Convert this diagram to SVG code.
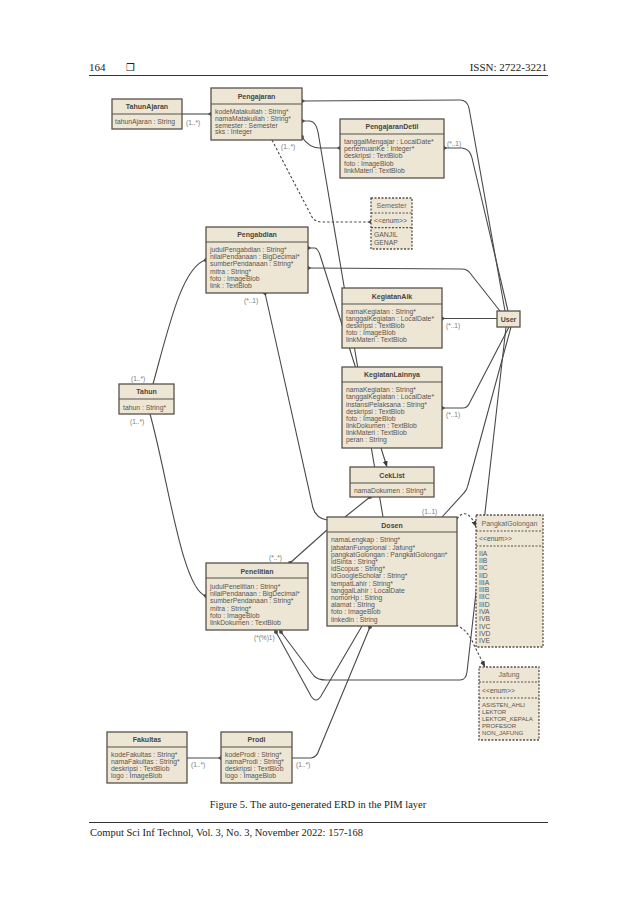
<svg xmlns="http://www.w3.org/2000/svg" width="638" height="902" viewBox="0 0 638 902">
<style>
.pg{fill:#fff}
.serif{font-family:"Liberation Serif","Times New Roman",serif;fill:#222}
.box{fill:#ede6d5;stroke:#57524c;stroke-width:1.3}
.ebox{fill:#ede6d5;stroke:#57524c;stroke-width:1.3;stroke-dasharray:2,1.5}
.hl{stroke:#57524c;stroke-width:1.2}
.ehl{stroke:#57524c;stroke-width:1.2;stroke-dasharray:2,1.5}
.t{font-family:"Liberation Sans",Arial,sans-serif;font-size:7px;font-weight:bold;fill:#4a4540;text-anchor:middle}
.et{font-family:"Liberation Sans",Arial,sans-serif;font-size:7px;fill:#6a655f;text-anchor:middle}
.a{font-family:"Liberation Sans",Arial,sans-serif;font-size:6.8px;fill:#5a554f}
.v{font-family:"Liberation Sans",Arial,sans-serif;font-size:6.1px;fill:#5a554f}
.c{fill:none;stroke:#4a4a4a;stroke-width:1.1}
.cd{fill:none;stroke:#4a4a4a;stroke-width:1.1;stroke-dasharray:2.5,2}
.lb{font-family:"Liberation Sans",Arial,sans-serif;font-size:6.5px;fill:#777}
</style>
<defs>
<marker id="d" markerUnits="userSpaceOnUse" markerWidth="6" markerHeight="6" refX="3" refY="3" orient="auto-start-reverse"><path d="M0,3 L3,0.8 L6,3 L3,5.2 z" fill="#4a4a4a"/></marker>
<marker id="ar" markerUnits="userSpaceOnUse" markerWidth="7" markerHeight="7" refX="6" refY="3" orient="auto-start-reverse"><path d="M0,0.5 L6,3 L0,5.5 z" fill="#3a3a3a"/></marker>
</defs>
<rect class="pg" x="0" y="0" width="638" height="902"/>
<g id="header">
<text class="serif" x="89" y="71" font-size="11">164</text>
<text x="126" y="71" font-family="DejaVu Sans,sans-serif" font-size="10" fill="#222">❒</text>
<text class="serif" x="547" y="71" font-size="11" text-anchor="end">ISSN: 2722-3221</text>
<line x1="89" y1="75.5" x2="548" y2="75.5" stroke="#333" stroke-width="1"/>
</g>
<g id="connectors">
<path class="c" d="M182,114 L211,114" marker-end="url(#d)"/>
<path class="c" d="M302,101 L460,100 Q467,100 469,108 L505,311" marker-start="url(#d)"/>
<path class="c" d="M302,137 Q309,148 320,148 L340,148" marker-start="url(#d)" marker-end="url(#d)"/>
<path class="c" d="M302,121 L310,121 Q316,122 318,132 L383,517" marker-start="url(#d)"/>
<path class="c" d="M444,148 L462,148 Q470,149 472,158 L508,311" marker-start="url(#d)"/>
<path class="cd" d="M272,140 L312,217 Q315,222 322,222 L371,222" marker-end="url(#d)"/>
<path class="c" d="M308,268 L462,269 Q467,269 470,273 L500,311" marker-start="url(#d)"/>
<path class="c" d="M308,248 L315,248 Q318,249 320,255 L387,467" marker-start="url(#d)" marker-end="url(#ar)"/>
<path class="c" d="M265,293 L313,508 Q316,518 327,520" marker-start="url(#d)"/>
<path class="c" d="M153,384 C168,330 182,266 206,260" marker-end="url(#d)"/>
<path class="c" d="M150,414 C168,478 182,590 206,596" marker-end="url(#d)"/>
<path class="c" d="M442,318.5 L497,318.5" marker-start="url(#d)"/>
<path class="c" d="M442,408 L463,408 Q467,408 469,404 L509,327" marker-start="url(#d)"/>
<path class="c" d="M442,517 L464,493 Q467,490 468,485 L511,327"/>
<path class="c" d="M281,632 L314,676 Q318,680 326,680 L460,680 Q466,680 467,672 L506,327" marker-start="url(#d)"/>
<path class="c" d="M276,632 L311,696 Q316,704 321,696 L362,626" marker-start="url(#d)"/>
<path class="c" d="M292,758 L311,758 Q317,757 319,750 L370,627" marker-end="url(#d)"/>
<path class="c" d="M187,758 L221,758" marker-end="url(#d)"/>
<path class="c" d="M290,563 L327,530" marker-start="url(#d)"/>
<path class="c" d="M345,517 L370,497" marker-end="url(#d)"/>
<path class="cd" d="M457,519 C462,511 470,511 476,527" marker-end="url(#ar)"/>
<path class="cd" d="M456,625 Q468,630 474,645 L485,667" marker-end="url(#ar)"/>
</g>
<g id="labels">
<text class="lb" x="186" y="125">(1..*)</text>
<text class="lb" x="281" y="149">(1..*)</text>
<text class="lb" x="447" y="145.5">(*..1)</text>
<text class="lb" x="244" y="302.5">(*..1)</text>
<text class="lb" x="446" y="327.5">(*..1)</text>
<text class="lb" x="131" y="380.5">(1..*)</text>
<text class="lb" x="130" y="424">(1..*)</text>
<text class="lb" x="446" y="416.5">(*..1)</text>
<text class="lb" x="422" y="514">(1..1)</text>
<text class="lb" x="269" y="560">(*..*)</text>
<text class="lb" x="254" y="640">(*(%)1)</text>
<text class="lb" x="191" y="767">(1..*)</text>
<text class="lb" x="296" y="767">(1..*)</text>
</g>
<g id="TahunAjaran">
<rect class="box" x="112" y="99" width="70" height="30"/>
<line class="hl" x1="112" y1="114" x2="182" y2="114"/>
<text class="t" x="147" y="109">TahunAjaran</text>
<text class="a" x="115" y="124">tahunAjaran : String</text>
</g>
<g id="Pengajaran">
<rect class="box" x="211" y="88" width="91" height="52"/>
<line class="hl" x1="211" y1="104" x2="302" y2="104"/>
<text class="t" x="256.5" y="98.5">Pengajaran</text>
<text class="a" x="215" y="114.3">kodeMatakuliah : String*</text>
<text class="a" x="215" y="121">namaMatakuliah : String*</text>
<text class="a" x="215" y="127.5">semester : Semester</text>
<text class="a" x="215" y="134.3">sks : Integer</text>
</g>
<g id="PengajaranDetil">
<rect class="box" x="340" y="119" width="104" height="59"/>
<line class="hl" x1="340" y1="134" x2="444" y2="134"/>
<text class="t" x="392" y="129">PengajaranDetil</text>
<text class="a" x="344" y="144">tanggalMengajar : LocalDate*</text>
<text class="a" x="344" y="151.1">pertemuanKe : Integer*</text>
<text class="a" x="344" y="158.3">deskripsi : TextBlob</text>
<text class="a" x="344" y="165.5">foto : ImageBlob</text>
<text class="a" x="344" y="172.8">linkMateri : TextBlob</text>
</g>
<g id="Semester">
<rect class="ebox" x="371" y="198" width="41" height="51"/>
<line class="ehl" x1="371" y1="213" x2="412" y2="213"/>
<line class="ehl" x1="371" y1="227.7" x2="412" y2="227.7"/>
<text class="et" x="391.5" y="208">Semester</text>
<text class="a" x="374" y="223">&lt;&lt;enum&gt;&gt;</text>
<text class="a" x="374" y="237">GANJIL</text>
<text class="a" x="374" y="244.5">GENAP</text>
</g>
<g id="Pengabdian">
<rect class="box" x="206" y="227" width="102" height="66"/>
<line class="hl" x1="206" y1="242" x2="308" y2="242"/>
<text class="t" x="257" y="237">Pengabdian</text>
<text class="a" x="210" y="251.6">judulPengabdian : String*</text>
<text class="a" x="210" y="258.9">nilaiPendanaan : BigDecimal*</text>
<text class="a" x="210" y="266.2">sumberPendanaan : String*</text>
<text class="a" x="210" y="273.5">mitra : String*</text>
<text class="a" x="210" y="280.8">foto : ImageBlob</text>
<text class="a" x="210" y="288.1">link : TextBlob</text>
</g>
<g id="KegiatanAik">
<rect class="box" x="342" y="288" width="100" height="60"/>
<line class="hl" x1="342" y1="304" x2="442" y2="304"/>
<text class="t" x="392" y="298.5">KegiatanAik</text>
<text class="a" x="346" y="314">namaKegiatan : String*</text>
<text class="a" x="346" y="321.1">tanggalKegiatan : LocalDate*</text>
<text class="a" x="346" y="328.2">deskripsi : TextBlob</text>
<text class="a" x="346" y="335.3">foto : ImageBlob</text>
<text class="a" x="346" y="342.4">linkMateri : TextBlob</text>
</g>
<g id="User">
<rect class="box" x="497" y="311" width="23" height="16"/>
<text class="t" x="508.5" y="321.5">User</text>
</g>
<g id="KegiatanLainnya">
<rect class="box" x="342" y="367" width="100" height="81"/>
<line class="hl" x1="342" y1="382" x2="442" y2="382"/>
<text class="t" x="392" y="377">KegiatanLainnya</text>
<text class="a" x="346" y="392.3">namaKegiatan : String*</text>
<text class="a" x="346" y="399.4">tanggalKegiatan : LocalDate*</text>
<text class="a" x="346" y="406.5">instansiPelaksana : String*</text>
<text class="a" x="346" y="413.6">deskripsi : TextBlob</text>
<text class="a" x="346" y="420.7">foto : ImageBlob</text>
<text class="a" x="346" y="427.8">linkDokumen : TextBlob</text>
<text class="a" x="346" y="434.9">linkMateri : TextBlob</text>
<text class="a" x="346" y="442">peran : String</text>
</g>
<g id="CekList">
<rect class="box" x="350" y="467" width="84" height="30"/>
<line class="hl" x1="350" y1="483" x2="434" y2="483"/>
<text class="t" x="392" y="478">CekList</text>
<text class="a" x="354" y="493">namaDokumen : String*</text>
</g>
<g id="Tahun">
<rect class="box" x="119" y="384" width="55" height="30"/>
<line class="hl" x1="119" y1="399" x2="174" y2="399"/>
<text class="t" x="146.5" y="394">Tahun</text>
<text class="a" x="123" y="409.5">tahun : String*</text>
</g>
<g id="Dosen">
<rect class="box" x="327" y="517" width="130" height="109"/>
<line class="hl" x1="327" y1="532" x2="457" y2="532"/>
<text class="t" x="392" y="527.5">Dosen</text>
<text class="a" x="331" y="542.3">namaLengkap : String*</text>
<text class="a" x="331" y="549.5">jabatanFungsional : Jafung*</text>
<text class="a" x="331" y="556.7">pangkatGolongan : PangkatGolongan*</text>
<text class="a" x="331" y="563.9">idSinta : String*</text>
<text class="a" x="331" y="571.1">idScopus : String*</text>
<text class="a" x="331" y="578.3">idGoogleScholar : String*</text>
<text class="a" x="331" y="585.5">tempatLahir : String*</text>
<text class="a" x="331" y="592.7">tanggalLahir : LocalDate</text>
<text class="a" x="331" y="599.9">nomorHp : String</text>
<text class="a" x="331" y="607.1">alamat : String</text>
<text class="a" x="331" y="614.3">foto : ImageBlob</text>
<text class="a" x="331" y="621.5">linkedin : String</text>
</g>
<g id="PangkatGolongan">
<rect class="ebox" x="476" y="515" width="67" height="132"/>
<line class="ehl" x1="476" y1="531" x2="543" y2="531"/>
<line class="ehl" x1="476" y1="546" x2="543" y2="546"/>
<text class="et" x="509.5" y="525.5">PangkatGolongan</text>
<text class="a" x="479" y="541">&lt;&lt;enum&gt;&gt;</text>
<text class="a" x="479" y="555.6">IIA</text>
<text class="a" x="479" y="562.9">IIB</text>
<text class="a" x="479" y="570.2">IIC</text>
<text class="a" x="479" y="577.5">IID</text>
<text class="a" x="479" y="584.8">IIIA</text>
<text class="a" x="479" y="592.1">IIIB</text>
<text class="a" x="479" y="599.4">IIIC</text>
<text class="a" x="479" y="606.7">IIID</text>
<text class="a" x="479" y="614">IVA</text>
<text class="a" x="479" y="621.3">IVB</text>
<text class="a" x="479" y="628.6">IVC</text>
<text class="a" x="479" y="635.9">IVD</text>
<text class="a" x="479" y="643.2">IVE</text>
</g>
<g id="Jafung">
<rect class="ebox" x="479" y="667" width="60" height="73"/>
<line class="ehl" x1="479" y1="682" x2="539" y2="682"/>
<line class="ehl" x1="479" y1="698" x2="539" y2="698"/>
<text class="et" x="509" y="677">Jafung</text>
<text class="a" x="482" y="692.5">&lt;&lt;enum&gt;&gt;</text>
<text class="v" x="482" y="707.3">ASISTEN_AHLI</text>
<text class="v" x="482" y="714.3">LEKTOR</text>
<text class="v" x="482" y="721.3">LEKTOR_KEPALA</text>
<text class="v" x="482" y="728.3">PROFESOR</text>
<text class="v" x="482" y="735.3">NON_JAFUNG</text>
</g>
<g id="Penelitian">
<rect class="box" x="206" y="563" width="102" height="67"/>
<line class="hl" x1="206" y1="578" x2="308" y2="578"/>
<text class="t" x="257" y="573.5">Penelitian</text>
<text class="a" x="210" y="589">judulPenelitian : String*</text>
<text class="a" x="210" y="596.2">nilaiPendanaan : BigDecimal*</text>
<text class="a" x="210" y="603.4">sumberPendanaan : String*</text>
<text class="a" x="210" y="610.6">mitra : String*</text>
<text class="a" x="210" y="617.8">foto : ImageBlob</text>
<text class="a" x="210" y="625">linkDokumen : TextBlob</text>
</g>
<g id="Fakultas">
<rect class="box" x="107" y="732" width="80" height="51"/>
<line class="hl" x1="107" y1="747" x2="187" y2="747"/>
<text class="t" x="147" y="742">Fakultas</text>
<text class="a" x="111" y="756.6">kodeFakultas : String*</text>
<text class="a" x="111" y="763.6">namaFakultas : String*</text>
<text class="a" x="111" y="770.8">deskripsi : TextBlob</text>
<text class="a" x="111" y="778">logo : ImageBlob</text>
</g>
<g id="Prodi">
<rect class="box" x="221" y="732" width="71" height="51"/>
<line class="hl" x1="221" y1="747" x2="292" y2="747"/>
<text class="t" x="256.5" y="742">Prodi</text>
<text class="a" x="225" y="756.6">kodeProdi : String*</text>
<text class="a" x="225" y="763.6">namaProdi : String*</text>
<text class="a" x="225" y="770.8">deskripsi : TextBlob</text>
<text class="a" x="225" y="778">logo : ImageBlob</text>
</g>
<g id="footer">
<text class="serif" x="318" y="808" font-size="10.5" text-anchor="middle">Figure 5. The auto-generated ERD in the PIM layer</text>
<line x1="89" y1="822.5" x2="548" y2="822.5" stroke="#333" stroke-width="1"/>
<text class="serif" x="90" y="836" font-size="10.5">Comput Sci Inf Technol, Vol. 3, No. 3, November 2022: 157-168</text>
</g>
</svg>
